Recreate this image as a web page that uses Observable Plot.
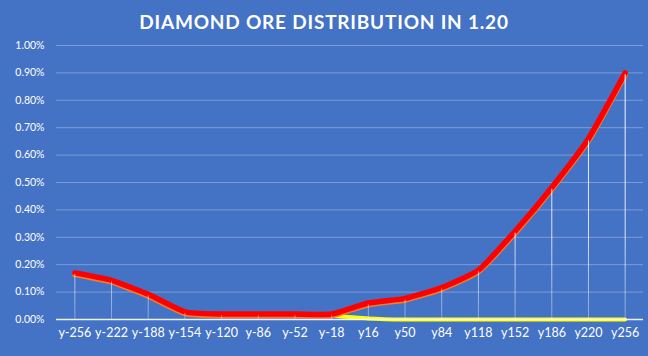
<!DOCTYPE html>
<html><head><meta charset="utf-8">
<script src="https://cdn.jsdelivr.net/npm/d3@7"></script>
<script src="https://cdn.jsdelivr.net/npm/@observablehq/plot@0.6"></script>
<style>
html,body{margin:0;padding:0;background:#4472C4;}
#wrap{width:648px;height:356px;background:#4472C4;overflow:hidden;}
#title{height:40px;line-height:44px;text-align:center;color:#fff;font-family:Lato,sans-serif;font-weight:700;font-size:19px;letter-spacing:0.8px;}
</style></head>
<body><div id="wrap"><div id="title">DIAMOND ORE DISTRIBUTION IN 1.20</div><div id="chart"></div></div>
<script>
const labels = ["y-256","y-222","y-188","y-154","y-120","y-86","y-52","y-18","y16","y50","y84","y118","y152","y186","y220","y256"];
const total  = [0.170,0.143,0.092,0.028,0.020,0.020,0.020,0.020,0.060,0.077,0.117,0.180,0.322,0.482,0.660,0.900];
const orange = [0.164,0.137,0.086,0.022,0.014,0.014,0.014,0.014,0.054,0.071,0.111,0.174,0.315,0.475,0.652,0.893];
const yellow = [0.164,0.137,0.086,0.022,0.014,0.014,0.014,0.014,0.004,0.000,0.000,0.000,0.000,0.000,0.000,0.000];
const yTicks = [0,0.1,0.2,0.3,0.4,0.5,0.6,0.7,0.8,0.9,1.0];

const rows = labels.map((l,i)=>({label:l,total:total[i]/100,orange:orange[i]/100,yellow:yellow[i]/100}));
const grid = yTicks.filter(t=>t>0).map(t=>t/100);
const curve = {curve:"cardinal", tension:0.5};

const chart = Plot.plot({
  width:648, height:316,
  marginTop:5, marginBottom:37, marginLeft:56, marginRight:5,
  style:{background:"transparent", color:"#fff", fontFamily:"Lato, sans-serif"},
  x:{type:"point", domain:labels, padding:0.5, round:false, label:null},
  y:{domain:[0,0.01], label:null},
  marks:[
    Plot.ruleY(grid,{stroke:"#fff", strokeOpacity:0.3, strokeWidth:1}),
    Plot.line(rows,{x:"label", y:"yellow", stroke:"#FFFF00", strokeWidth:4, ...curve}),
    Plot.line(rows,{x:"label", y:"orange", stroke:"#ED7D31", strokeWidth:5.5, ...curve}),
    Plot.line(rows,{x:"label", y:"total", stroke:"#FF0000", strokeWidth:5.5, ...curve}),
    Plot.ruleX(rows,{x:"label", y1:0, y2:"orange", stroke:"url(#dropfade)", strokeWidth:1}),
    Plot.ruleY([0],{stroke:"#fff", strokeOpacity:0.9, strokeWidth:1.5}),
    Plot.axisX({tickSize:0, tickPadding:9, fontSize:12.5, label:null}),
    Plot.axisY({ticks:yTicks.map(t=>t/100), tickFormat:d3.format(".2%"), tickSize:0, tickPadding:12, fontSize:10.5, label:null})
  ]
});
const defs = d3.select(chart).insert("defs", ":first-child");
const g = defs.append("linearGradient").attr("id","dropfade").attr("gradientUnits","userSpaceOnUse")
  .attr("x1",0).attr("x2",0).attr("y1",5).attr("y2",279);
g.append("stop").attr("offset","0%").attr("stop-color","#fff").attr("stop-opacity",1);
g.append("stop").attr("offset","70%").attr("stop-color","#fff").attr("stop-opacity",0.8);
g.append("stop").attr("offset","100%").attr("stop-color","#fff").attr("stop-opacity",0.35);
document.getElementById("chart").appendChild(chart);
</script>
</body></html>
